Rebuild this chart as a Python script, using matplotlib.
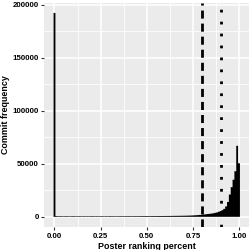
import numpy as np
import matplotlib
matplotlib.use("Agg")
import matplotlib.pyplot as plt
from matplotlib.ticker import MultipleLocator

# bin centres (binwidth 0.01) and commit counts
bin_centers = [round(i * 0.01, 2) for i in range(101)]
counts = [
    192400,
    700, 550, 600, 550, 500, 600, 550, 500, 550, 600,
    550, 500, 550, 550, 500, 550, 500, 550, 500, 600,
    550, 500, 550, 500, 550, 550, 500, 550, 500, 600,
    550, 550, 500, 550, 550, 600, 550, 550, 600, 600,
    600, 550, 600, 600, 600, 600, 650, 650, 650, 700,
    650, 650, 700, 700, 700, 700, 750, 750, 750, 800,
    800, 800, 850, 850, 900, 900, 950, 950, 1000, 1000,
    1050, 1100, 1150, 1200, 1300, 1400, 1500, 1650, 1800, 2000,
    2200, 2400, 2600, 2800, 3000, 3300, 3700, 4100, 4700, 5400,
    6300, 7500, 9800, 14000, 21000, 28000, 35000, 43000, 67000, 50500,
]
binwidth = 0.01
dashed_cut = 0.8
dotted_cut = 0.9

xticks = [0.0, 0.25, 0.5, 0.75, 1.0]
xtick_labels = ["0.00", "0.25", "0.50", "0.75", "1.00"]
yticks = [0, 50000, 100000, 150000, 200000]

plt.rcParams['font.family'] = ['Liberation Sans', 'DejaVu Sans']

fig = plt.figure(figsize=(2.5, 2.5), dpi=100)
ax = fig.add_axes([0.177, 0.092, 0.82, 0.897])
ax.set_facecolor('#EBEBEB')
for s in ax.spines.values():
    s.set_visible(False)

# histogram as one filled step polygon (no seams between bins)
edges = np.append(np.array(bin_centers) - binwidth / 2, bin_centers[-1] + binwidth / 2)
hist = ax.stairs(counts, edges, fill=True, color='black', linewidth=0.4, zorder=2)
hist.set_snap(False)
ax.axvline(dashed_cut, color='black', linewidth=2.0, linestyle=(0, (2.9, 1.8)), zorder=3)
ax.axvline(dotted_cut, color='black', linewidth=2.0, linestyle=(0, (1, 3.3)), zorder=3)

ymax = max(counts)
ax.set_xlim(-0.0555, 1.0555)
ax.set_ylim(-0.05 * ymax, 1.05 * ymax)

ax.set_xticks(xticks)
ax.set_xticklabels(xtick_labels)
ax.set_yticks(yticks)
ax.set_yticklabels([str(v) for v in yticks])
ax.xaxis.set_minor_locator(MultipleLocator(0.125))
ax.yaxis.set_minor_locator(MultipleLocator(25000))

ax.grid(True, which='major', color='white', linewidth=1.1, zorder=0)
ax.grid(True, which='minor', color='white', linewidth=0.55, zorder=0)
ax.set_axisbelow(True)

ax.tick_params(which='major', length=2.5, width=0.8, color='#333333',
               labelsize=5.7, labelcolor='black', pad=1.5)
ax.tick_params(which='minor', length=0)
for lab in ax.get_xticklabels() + ax.get_yticklabels():
    lab.set_fontweight('bold')

ax.set_xlabel('Poster ranking percent', fontsize=6.4, fontweight='bold', labelpad=1.5)
ax.set_ylabel('Commit frequency', fontsize=6.4, fontweight='bold', labelpad=2)

plt.savefig('out.png', dpi=100)
